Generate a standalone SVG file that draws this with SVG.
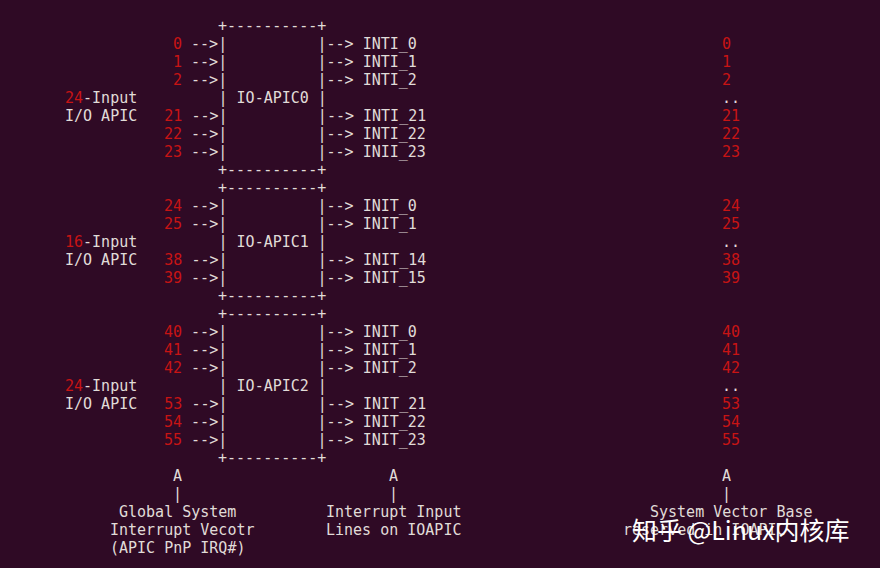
<svg xmlns="http://www.w3.org/2000/svg" width="880" height="568" viewBox="0 0 880 568">
<style>
text{font-family:"DejaVu Sans Mono","Liberation Mono",monospace;font-size:15px;fill:#e0dcd8;white-space:pre}
.r{fill:#c81414}
.wm{font-family:"Noto Sans CJK SC","Noto Sans",sans-serif;font-size:25px;fill:#ffffff}
</style>
<rect width="880" height="568" fill="#2f0a25"/>
<g id="apic0">
<text x="218" y="31">+----------+</text>
<text x="173" y="49"><tspan class="r">0</tspan> --&gt;|          |--&gt; INTI_0</text>
<text x="173" y="67"><tspan class="r">1</tspan> --&gt;|          |--&gt; INTI_1</text>
<text x="173" y="85"><tspan class="r">2</tspan> --&gt;|          |--&gt; INTI_2</text>
<text x="65" y="103"><tspan class="r">24</tspan>-Input         | IO-APIC0 |</text>
<text x="65" y="121">I/O APIC   <tspan class="r">21</tspan> --&gt;|          |--&gt; INTI_21</text>
<text x="164" y="139"><tspan class="r">22</tspan> --&gt;|          |--&gt; INTI_22</text>
<text x="164" y="157"><tspan class="r">23</tspan> --&gt;|          |--&gt; INII_23</text>
<text x="218" y="175">+----------+</text>
</g>
<g id="apic1">
<text x="218" y="193">+----------+</text>
<text x="164" y="211"><tspan class="r">24</tspan> --&gt;|          |--&gt; INIT_0</text>
<text x="164" y="229"><tspan class="r">25</tspan> --&gt;|          |--&gt; INIT_1</text>
<text x="65" y="247"><tspan class="r">16</tspan>-Input         | IO-APIC1 |</text>
<text x="65" y="265">I/O APIC   <tspan class="r">38</tspan> --&gt;|          |--&gt; INIT_14</text>
<text x="164" y="283"><tspan class="r">39</tspan> --&gt;|          |--&gt; INIT_15</text>
<text x="218" y="301">+----------+</text>
</g>
<g id="apic2">
<text x="218" y="319">+----------+</text>
<text x="164" y="337"><tspan class="r">40</tspan> --&gt;|          |--&gt; INIT_0</text>
<text x="164" y="355"><tspan class="r">41</tspan> --&gt;|          |--&gt; INIT_1</text>
<text x="164" y="373"><tspan class="r">42</tspan> --&gt;|          |--&gt; INIT_2</text>
<text x="65" y="391"><tspan class="r">24</tspan>-Input         | IO-APIC2 |</text>
<text x="65" y="409">I/O APIC   <tspan class="r">53</tspan> --&gt;|          |--&gt; INIT_21</text>
<text x="164" y="427"><tspan class="r">54</tspan> --&gt;|          |--&gt; INIT_22</text>
<text x="164" y="445"><tspan class="r">55</tspan> --&gt;|          |--&gt; INIT_23</text>
<text x="218" y="463">+----------+</text>
</g>
<g id="vectors" class="r">
<text class="r" x="722" y="49">0</text>
<text class="r" x="722" y="67">1</text>
<text class="r" x="722" y="85">2</text>
<text x="722" y="103">..</text>
<text class="r" x="722" y="121">21</text>
<text class="r" x="722" y="139">22</text>
<text class="r" x="722" y="157">23</text>
<text class="r" x="722" y="211">24</text>
<text class="r" x="722" y="229">25</text>
<text x="722" y="247">..</text>
<text class="r" x="722" y="265">38</text>
<text class="r" x="722" y="283">39</text>
<text class="r" x="722" y="337">40</text>
<text class="r" x="722" y="355">41</text>
<text class="r" x="722" y="373">42</text>
<text x="722" y="391">..</text>
<text class="r" x="722" y="409">53</text>
<text class="r" x="722" y="427">54</text>
<text class="r" x="722" y="445">55</text>
</g>
<g id="connectors">
<text x="173" y="481">A</text>
<text x="173" y="499">|</text>
<text x="389" y="481">A</text>
<text x="389" y="499">|</text>
<text x="722" y="481">A</text>
<text x="722" y="499">|</text>
</g>
<g id="labels">
<text x="119" y="517">Global System</text>
<text x="110" y="535">Interrupt Vecotr</text>
<text x="110" y="553">(APIC PnP IRQ#)</text>
<text x="326" y="517">Interrupt Input</text>
<text x="326" y="535">Lines on IOAPIC</text>
<text x="650" y="517">System Vector Base</text>
<text x="623" y="535">reserved in IOAPIC</text>
</g>
<text class="wm" x="632" y="540">知乎 @Linux内核库</text>
</svg>
